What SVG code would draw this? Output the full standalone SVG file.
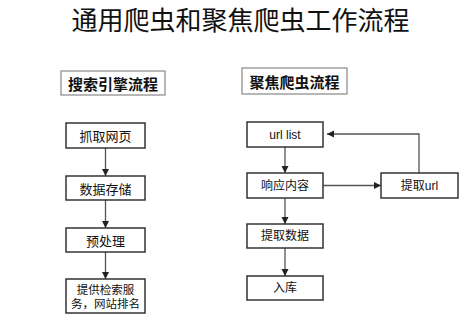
<svg xmlns="http://www.w3.org/2000/svg" width="474" height="329" viewBox="0 0 474 329">
<style>
.bg{fill:#ffffff}
.title{font-family:"Noto Sans CJK SC","Liberation Sans",sans-serif;font-size:26px;fill:#111;text-anchor:middle;dominant-baseline:central}
.hdr{fill:#fff;stroke:#888;stroke-width:1.2}
.htxt{font-family:"Noto Sans CJK SC","Liberation Sans",sans-serif;font-size:15px;font-weight:bold;fill:#111;text-anchor:middle;dominant-baseline:central}
.box{fill:#fff;stroke:#333;stroke-width:1.5}
.t13{font-family:"Noto Sans CJK SC","Liberation Sans",sans-serif;font-size:13px;fill:#111;text-anchor:middle;dominant-baseline:central}
.t11{font-family:"Noto Sans CJK SC","Liberation Sans",sans-serif;font-size:11.5px;fill:#111;text-anchor:middle;dominant-baseline:central}
.t12{font-family:"Liberation Sans","Noto Sans CJK SC",sans-serif;font-size:12px;fill:#111;text-anchor:middle;dominant-baseline:central}
.ln{fill:none;stroke:#555;stroke-width:1.3}
</style>
<defs>
<marker id="ah" markerUnits="userSpaceOnUse" markerWidth="8" markerHeight="8" refX="7" refY="3.5" orient="auto">
<path d="M0,0 L7,3.5 L0,7 z" fill="#222"/>
</marker>
</defs>
<rect class="bg" x="0" y="0" width="474" height="329"/>
<text class="title" x="240.5" y="18.5">通用爬虫和聚焦爬虫工作流程</text>

<g id="hdr-left"><rect class="hdr" x="61" y="71" width="104" height="24"/><text class="htxt" x="113" y="83">搜索引擎流程</text></g>
<g id="hdr-right"><rect class="hdr" x="242" y="68" width="105" height="26"/><text class="htxt" x="294.5" y="81">聚焦爬虫流程</text></g>

<g id="connectors">
<line class="ln" x1="105.5" y1="148" x2="105.5" y2="176" marker-end="url(#ah)"/>
<line class="ln" x1="105.5" y1="200" x2="105.5" y2="228" marker-end="url(#ah)"/>
<line class="ln" x1="105.5" y1="252" x2="105.5" y2="279" marker-end="url(#ah)"/>
<line class="ln" x1="285" y1="147" x2="285" y2="173" marker-end="url(#ah)"/>
<line class="ln" x1="285" y1="198" x2="285" y2="224" marker-end="url(#ah)"/>
<line class="ln" x1="285" y1="248" x2="285" y2="276" marker-end="url(#ah)"/>
<line class="ln" x1="323" y1="185.5" x2="381" y2="185.5" marker-end="url(#ah)"/>
<polyline class="ln" points="419,173 419,134 327,134" marker-end="url(#ah)"/>
</g>

<g id="n-fetch"><rect class="box" x="66" y="123" width="79" height="25"/><text class="t13" x="105.5" y="135.5">抓取网页</text></g>
<g id="n-store"><rect class="box" x="66" y="176" width="79" height="24"/><text class="t13" x="105.5" y="188">数据存储</text></g>
<g id="n-pre"><rect class="box" x="66" y="228" width="79" height="24"/><text class="t13" x="105.5" y="240">预处理</text></g>
<g id="n-serve"><rect class="box" x="66" y="279" width="79" height="34"/><text class="t11" x="105.5" y="288.5">提供检索服</text><text class="t11" x="105.5" y="303">务，网站排名</text></g>

<g id="n-urllist"><rect class="box" x="247" y="122" width="76" height="25"/><text class="t12" x="285" y="134.5">url list</text></g>
<g id="n-resp"><rect class="box" x="247" y="173" width="76" height="25"/><text class="t12" x="285" y="185.5">响应内容</text></g>
<g id="n-extract"><rect class="box" x="247" y="224" width="76" height="24"/><text class="t12" x="285" y="236">提取数据</text></g>
<g id="n-db"><rect class="box" x="247" y="276" width="76" height="24"/><text class="t12" x="285" y="288">入库</text></g>
<g id="n-exurl"><rect class="box" x="381" y="173" width="77" height="25"/><text class="t12" x="419.5" y="185.5">提取url</text></g>
</svg>
